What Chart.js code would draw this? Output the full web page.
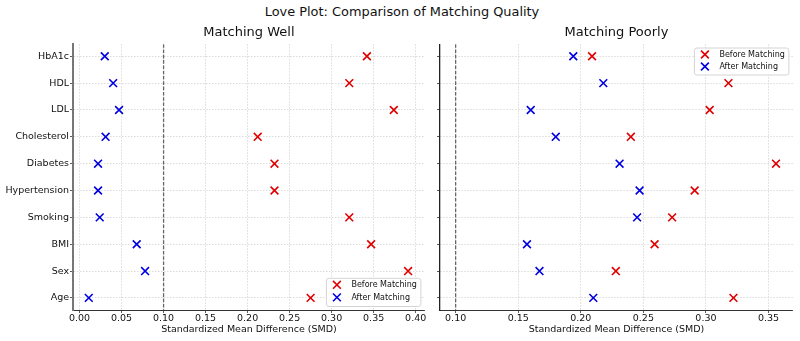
<!DOCTYPE html>
<html>
<head>
<meta charset="utf-8">
<title>Love Plot</title>
<script src="https://cdn.jsdelivr.net/npm/chart.js@4/dist/chart.umd.min.js"></script>
<style>
	html, body { margin: 0; padding: 0; background: #fff; }
	#wrap { position: relative; width: 800px; height: 341px; overflow: hidden; }
	#mainTitle {
		position: absolute; left: 0; top: 4px; width: 804px;
		text-align: center; font: 12.9px/15px 'DejaVu Sans', sans-serif; color: #111;
	}
	canvas { position: absolute; top: 0; }
	#wellChart { left: 0; }
	#poorChart { left: 432px; }
</style>
</head>
<body>
<div id="wrap">
	<div id="mainTitle">Love Plot: Comparison of Matching Quality</div>
	<canvas id="wellChart" width="432" height="341"></canvas>
	<canvas id="poorChart" width="368" height="341"></canvas>
</div>
<script>
// Data
const covariates = ['HbA1c', 'HDL', 'LDL', 'Cholesterol', 'Diabetes', 'Hypertension', 'Smoking', 'BMI', 'Sex', 'Age'];

const wellBefore = [0.342, 0.321, 0.374, 0.212, 0.232, 0.232, 0.321, 0.347, 0.391, 0.275];
const wellAfter  = [0.030, 0.040, 0.047, 0.031, 0.022, 0.022, 0.024, 0.068, 0.078, 0.011];

const poorBefore = [0.209, 0.318, 0.303, 0.240, 0.356, 0.291, 0.273, 0.259, 0.228, 0.322];
const poorAfter  = [0.194, 0.218, 0.160, 0.180, 0.231, 0.247, 0.245, 0.157, 0.167, 0.210];

const wellTicks = [0.00, 0.05, 0.10, 0.15, 0.20, 0.25, 0.30, 0.35, 0.40];
const poorTicks = [0.10, 0.15, 0.20, 0.25, 0.30, 0.35];

const threshold = 0.1;

const RED = '#e00000';
const BLUE = '#0000e0';
const TEXT = '#111';

Chart.defaults.font.family = "'DejaVu Sans', sans-serif";
Chart.defaults.color = TEXT;

// legend drawn inside the plot area, with a box like matplotlib's
const insideLegend = {
	id: 'insideLegend',
	afterDatasetsDraw(chart, args, opts) {
		const items = chart.data.datasets.filter(d => !d.isThreshold);
		const ctx = chart.ctx;
		const area = chart.chartArea;
		ctx.save();
		ctx.font = "8px 'DejaVu Sans', sans-serif";
		const textW = Math.max(...items.map(d => ctx.measureText(d.label).width));
		const rowH = opts.rowHeight || 12.5;
		const w = 25 + textW + 4;
		const h = items.length * rowH + 3;
		const x = area.right - 4.5 - w;
		const y = opts.corner === 'top' ? area.top + 3.3 : area.bottom - 4 - h;

		ctx.fillStyle = 'rgba(255,255,255,0.85)';
		ctx.strokeStyle = '#d4d4d4';
		ctx.lineWidth = 1;
		ctx.beginPath();
		ctx.roundRect(x + 0.5, y + 0.5, w, h, 2.5);
		ctx.fill();
		ctx.stroke();

		items.forEach((d, i) => {
			const cy = y + 7 + i * rowH;
			const cx = x + 11;
			const r = 3.9;
			ctx.strokeStyle = d.borderColor;
			ctx.lineWidth = 1.6;
			ctx.beginPath();
			ctx.moveTo(cx - r, cy - r); ctx.lineTo(cx + r, cy + r);
			ctx.moveTo(cx - r, cy + r); ctx.lineTo(cx + r, cy - r);
			ctx.stroke();
			ctx.fillStyle = TEXT;
			ctx.textBaseline = 'middle';
			ctx.textAlign = 'left';
			ctx.fillText(d.label, x + 25.5, cy + 0.5);
		});
		ctx.restore();
	}
};

function toPoints(values) {
	return values.map((v, i) => ({ x: v, y: i }));
}

function makeChart(canvasId, cfg) {
	const yMin = -0.45;
	const yMax = covariates.length - 1 + 0.45;
	return new Chart(document.getElementById(canvasId), {
		type: 'scatter',
		data: {
			datasets: [
				{
					label: 'Before Matching',
					data: toPoints(cfg.before),
					pointStyle: 'crossRot',
					pointRadius: 5.5,
					borderWidth: 1.6,
					borderColor: RED,
					backgroundColor: RED
				},
				{
					label: 'After Matching',
					data: toPoints(cfg.after),
					pointStyle: 'crossRot',
					pointRadius: 5.5,
					borderWidth: 1.6,
					borderColor: BLUE,
					backgroundColor: BLUE
				},
				{
					label: 'threshold',
					isThreshold: true,
					data: [{ x: threshold, y: yMin }, { x: threshold, y: yMax }],
					showLine: true,
					pointRadius: 0,
					borderColor: '#666',
					borderWidth: 1.3,
					borderDash: [3.6, 1.7]
				}
			]
		},
		options: {
			responsive: false,
			animation: false,
			events: [],
			layout: { padding: { left: 0, right: cfg.padRight, top: 0, bottom: 0 } },
			plugins: {
				legend: { display: false },
				tooltip: { enabled: false },
				title: {
					display: true,
					fullSize: false,
					text: cfg.title,
					color: TEXT,
					font: { size: 13, weight: 'normal' },
					padding: { top: 25.3, bottom: 3.3 }
				},
				insideLegend: { corner: cfg.legendCorner, rowHeight: cfg.legendRow }
			},
			scales: {
				x: {
					type: 'linear',
					min: cfg.xMin,
					max: cfg.xMax,
					afterBuildTicks: s => { s.ticks = cfg.ticks.map(v => ({ value: v })); },
					afterFit: s => { s.height = 31; },
					ticks: {
						autoSkip: false,
						maxRotation: 0,
						padding: 0,
						color: TEXT,
						font: { size: 9.5 },
						callback: v => Number(v).toFixed(2)
					},
					grid: {
						color: '#d2d2d2',
						lineWidth: 0.8,
						tickColor: '#333',
						tickLength: 3,
						tickWidth: 0.8,
						tickBorderDash: []
					},
					border: { color: '#333', width: 1, dash: [1.5, 1.5] },
					title: {
						display: true,
						text: 'Standardized Mean Difference (SMD)',
						color: TEXT,
						font: { size: 9.5 },
						padding: { top: 0, bottom: 6 }
					}
				},
				y: {
					type: 'linear',
					reverse: true,
					min: yMin,
					max: yMax,
					afterBuildTicks: s => { s.ticks = covariates.map((_, i) => ({ value: i })); },
					afterFit: s => { s.width = cfg.yWidth; },
					ticks: {
						display: cfg.showLabels,
						autoSkip: false,
						padding: 1,
						color: TEXT,
						font: { size: 9.5 },
						callback: v => covariates[v]
					},
					grid: {
						color: '#d2d2d2',
						lineWidth: 0.8,
						tickColor: '#333',
						tickLength: 3,
						tickWidth: 0.8,
						tickBorderDash: []
					},
					border: { color: cfg.spineColor, width: cfg.spineWidth, dash: [1.5, 1.5] }
				}
			}
		},
		plugins: [insideLegend]
	});
}

makeChart('wellChart', {
	title: 'Matching Well',
	before: wellBefore,
	after: wellAfter,
	ticks: wellTicks,
	xMin: -0.0078,
	xMax: 0.411,
	yWidth: 73,
	padRight: 4,
	showLabels: true,
	spineColor: '#777',
	spineWidth: 2,
	legendCorner: 'bottom',
	legendRow: 12.6
});

makeChart('poorChart', {
	title: 'Matching Poorly',
	before: poorBefore,
	after: poorAfter,
	ticks: poorTicks,
	xMin: 0.0875,
	xMax: 0.3695,
	yWidth: 8,
	padRight: 5,
	showLabels: false,
	spineColor: '#222',
	spineWidth: 1.3,
	legendCorner: 'top',
	legendRow: 12
});
</script>
</body>
</html>
